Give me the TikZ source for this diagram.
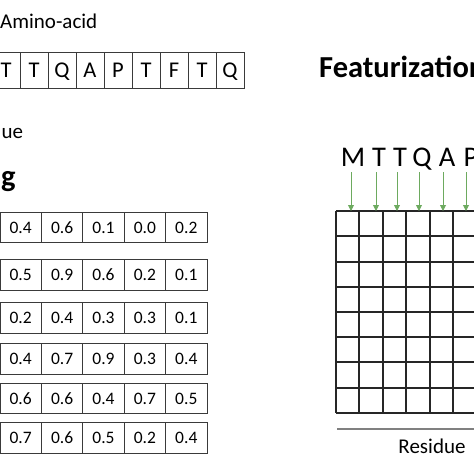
\documentclass[tikz,border=0pt]{standalone}
\usepackage{fontspec}
\setmainfont{Carlito}
\usetikzlibrary{arrows.meta}
\definecolor{arrowgreen}{HTML}{6DAA5F}
\definecolor{boxline}{HTML}{3A3A3A}
\tikzstyle{aa}=[draw=boxline,line width=1pt,minimum width=28pt,minimum height=36pt,inner sep=0pt,text height=14.5pt,text depth=0pt,font=\fontsize{22.5}{22.5}\selectfont]
\tikzstyle{val}=[draw=boxline,line width=1pt,minimum width=41.4pt,minimum height=30.5pt,inner sep=0pt,text height=11pt,text depth=0pt,font=\fontsize{17.5}{17.5}\selectfont]
\tikzstyle{letter}=[inner sep=0pt,anchor=base,text depth=0pt,font=\fontsize{28.5}{28.5}\selectfont]
\tikzstyle{plaintext}=[inner sep=0pt,anchor=base west,font=\fontsize{21}{21}\selectfont]
\tikzstyle{heading}=[inner sep=0pt,anchor=base west,font=\bfseries\fontsize{30.5}{30.5}\selectfont]
\tikzstyle{feed}=[arrowgreen,line width=0.9pt,shorten <=6pt,-{Triangle[width=6pt,length=6pt]}]
\tikzstyle{gridline}=[black!85,line width=1.5pt]
\tikzstyle{axis}=[black!50,line width=1.3pt]

\begin{document}
\begin{tikzpicture}[x=1pt,y=-1pt]
			\useasboundingbox (0,0) rectangle (474,474);
			\clip (0,0) rectangle (474,474);
			
			% sequence
			\node [plaintext] (aminoacid) at (0,28) {Amino-acid};
			\node (s1) at (6,70) [aa] {T};
			\node (s2) at (34,70) [aa] {T};
			\node (s3) at (62,70) [aa] {Q};
			\node (s4) at (90,70) [aa] {A};
			\node (s5) at (118,70) [aa] {P};
			\node (s6) at (146,70) [aa] {T};
			\node (s7) at (174,70) [aa] {F};
			\node (s8) at (202,70) [aa] {T};
			\node (s9) at (230,70) [aa] {Q};
			
			\node [plaintext] (ue) at (1.5,138) {ue};
			\node [heading] (g) at (1,186) {g};
			
			% values
			\node (v11) at (20.7,227.5) [val] {0.4};
			\node (v12) at (62.1,227.5) [val] {0.6};
			\node (v13) at (103.5,227.5) [val] {0.1};
			\node (v14) at (144.9,227.5) [val] {0.0};
			\node (v15) at (186.3,227.5) [val] {0.2};
			
			\node (v21) at (20.7,275) [val] {0.5};
			\node (v22) at (62.1,275) [val] {0.9};
			\node (v23) at (103.5,275) [val] {0.6};
			\node (v24) at (144.9,275) [val] {0.2};
			\node (v25) at (186.3,275) [val] {0.1};
			
			\node (v31) at (20.7,318) [val] {0.2};
			\node (v32) at (62.1,318) [val] {0.4};
			\node (v33) at (103.5,318) [val] {0.3};
			\node (v34) at (144.9,318) [val] {0.3};
			\node (v35) at (186.3,318) [val] {0.1};
			
			\node (v41) at (20.7,359) [val] {0.4};
			\node (v42) at (62.1,359) [val] {0.7};
			\node (v43) at (103.5,359) [val] {0.9};
			\node (v44) at (144.9,359) [val] {0.3};
			\node (v45) at (186.3,359) [val] {0.4};
			
			\node (v51) at (20.7,398.5) [val] {0.6};
			\node (v52) at (62.1,398.5) [val] {0.6};
			\node (v53) at (103.5,398.5) [val] {0.4};
			\node (v54) at (144.9,398.5) [val] {0.7};
			\node (v55) at (186.3,398.5) [val] {0.5};
			
			\node (v61) at (20.7,438) [val] {0.7};
			\node (v62) at (62.1,438) [val] {0.6};
			\node (v63) at (103.5,438) [val] {0.5};
			\node (v64) at (144.9,438) [val] {0.2};
			\node (v65) at (186.3,438) [val] {0.4};
			
			% featurization
			\node [heading] (feat) at (319,77) {Featurization};
			\node (m1) at (353,166) [letter] {M};
			\node (m2) at (379,166) [letter] {T};
			\node (m3) at (400,166) [letter] {T};
			\node (m4) at (422,166) [letter] {Q};
			\node (m5) at (447,166) [letter] {A};
			\node (m6) at (471,166) [letter] {P};
			
			\foreach \x in {336,359,383,406,430,453}
				\draw [gridline] (\x,211) -- (\x,413);
			\foreach \y in {211,236,262,287,312,337,362,388,413}
				\draw [gridline] (336,\y) -- (476,\y);
			
			\coordinate (c1) at (351,211);
			\coordinate (c2) at (376,211);
			\coordinate (c3) at (397,211);
			\coordinate (c4) at (419,211);
			\coordinate (c5) at (443,211);
			\coordinate (c6) at (466,211);
			
			\draw [feed] (m1.south -| c1) -- (c1);
			\draw [feed] (m2.south -| c2) -- (c2);
			\draw [feed] (m3.south -| c3) -- (c3);
			\draw [feed] (m4.south -| c4) -- (c4);
			\draw [feed] (m5.south -| c5) -- (c5);
			\draw [feed] (m6.south -| c6) -- (c6);
			
			\coordinate (axisl) at (337,429);
			\coordinate (axisr) at (480,429);
			\draw [axis] (axisl) -- (axisr);
			\node [plaintext,anchor=base] (residue) at (432,453) {Residue};
		\end{tikzpicture}
\end{document}
